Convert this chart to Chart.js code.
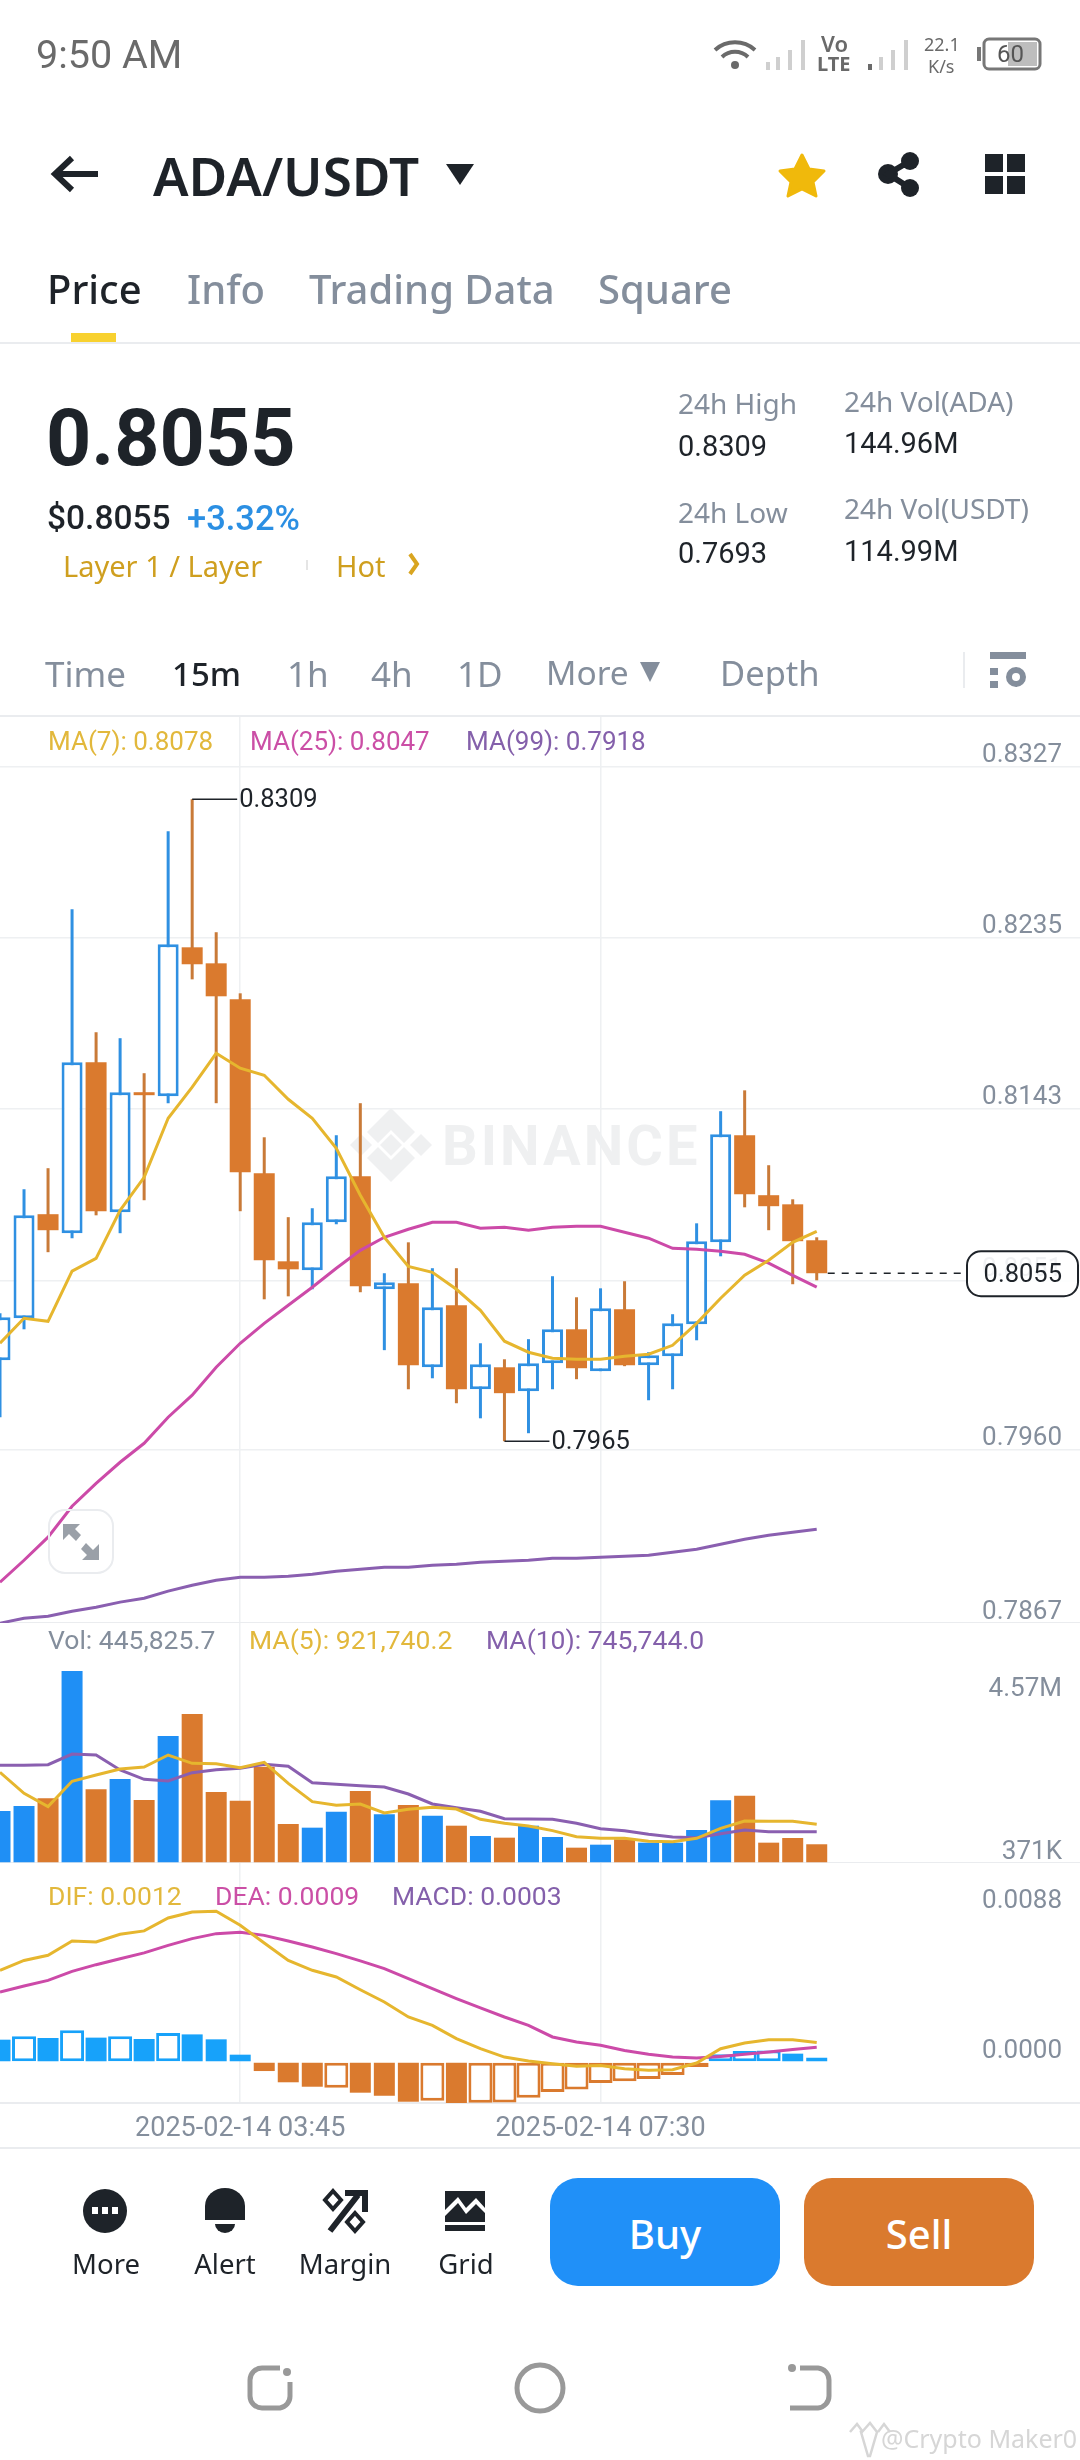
<!DOCTYPE html>
<html>
<head>
<meta charset="utf-8">
<title>ADA/USDT</title>
<script src="https://cdn.jsdelivr.net/npm/chart.js@4/dist/chart.umd.min.js"></script>
<style>
  html, body { margin: 0; padding: 0; background: #fff; }
  #page { position: relative; width: 1080px; height: 2460px; overflow: hidden; background: #fff; font-family: "Noto Sans", sans-serif; }
  .t { position: absolute; white-space: nowrap; line-height: 1; transform: translateY(-50%); }
  .c { transform: translate(-50%, -50%); }
  .num { font-family: Roboto, sans-serif; }
  .g { color: #848e9c; }
  .d { color: #1e2329; }
  .rule { position: absolute; left: 0; width: 1080px; height: 2px; background: #eaecef; }
  canvas { position: absolute; left: 0; }
  svg { position: absolute; left: 0; top: 0; }
  .btn { position: absolute; top: 2178px; height: 108px; width: 230px; border-radius: 28px; color: #fff; font-size: 40px; font-weight: 500; text-align: center; line-height: 112px; }
</style>
</head>
<body>
<div id="page">
  <!-- watermark sits under the charts -->
  <svg width="1080" height="2460">
    <g fill="#eff0f1">
      <path d="M391 1108 l24 24 -11 11 -13 -13 -13 13 -11 -11 z"/>
      <path d="M391 1182 l24 -24 -11 -11 -13 13 -13 -13 -11 11 z"/>
      <path d="M391 1134 l11 11 -11 11 -11 -11 z"/>
      <path d="M361 1134 l11 11 -11 11 -11 -11 z"/>
      <path d="M421 1134 l11 11 -11 11 -11 -11 z"/>
    </g>
    <text x="442" y="1165" font-family="Roboto" font-weight="700" font-size="56" letter-spacing="3" fill="#eff0f1">BINANCE</text>
  </svg>

  <canvas id="priceChart" width="1080" height="907" style="top:716px"></canvas>
  <canvas id="volChart" width="1080" height="240" style="top:1623px"></canvas>
  <canvas id="macdChart" width="1080" height="285" style="top:1863px"></canvas>

  <div class="rule" style="top:342px"></div>
  <div class="rule" style="top:715px"></div>
  <div class="rule" style="top:2147px"></div>

  <svg width="1080" height="2460">
    <!-- status bar -->
    <g fill="none" stroke="#6a6a6a" stroke-width="4">
      <path d="M715 50 a30 30 0 0 1 40 0"/><path d="M722 57 a19 19 0 0 1 26 0"/>
    </g>
    <circle cx="735" cy="65" r="4" fill="#6a6a6a"/>
    <g fill="#cfcfcf">
      <rect x="766" y="62" width="4" height="8"/><rect x="776" y="57" width="4" height="13"/><rect x="788" y="50" width="4" height="20"/><rect x="801" y="40" width="4" height="30"/>
      <rect x="879" y="57" width="4" height="13"/><rect x="891" y="50" width="4" height="20"/><rect x="904" y="40" width="4" height="30"/>
    </g>
    <rect x="868" y="64" width="4" height="6" fill="#6a6a6a"/>
    <rect x="984" y="39" width="56" height="30" rx="5" fill="none" stroke="#777" stroke-width="3"/>
    <rect x="1008" y="42" width="29" height="24" fill="#bdbdbd"/>
    <rect x="977" y="47" width="4" height="14" fill="#777"/>
    <!-- header icons -->
    <path d="M98 174 H58 M72 158 L55 174 L72 190" fill="none" stroke="#1e2329" stroke-width="6"/>
    <path d="M446 164 H474 L460 185 Z" fill="#1e2329"/>
    <path d="M802 155 L809 169 L824 171 L813 182 L816 196 L802 189 L788 196 L791 182 L780 171 L795 169 Z" fill="#f0b90b" stroke="#f0b90b" stroke-width="3" stroke-linejoin="round"/>
    <g fill="#1e2329"><circle cx="888" cy="174" r="10"/><circle cx="910" cy="161" r="9"/><circle cx="910" cy="188" r="9"/></g>
    <path d="M910 161 L888 174 L910 188" fill="none" stroke="#1e2329" stroke-width="6"/>
    <g fill="#1e2329">
      <rect x="985" y="154" width="18" height="18"/><rect x="1007" y="154" width="18" height="18"/>
      <rect x="985" y="176" width="18" height="18"/><rect x="1007" y="176" width="18" height="18"/>
    </g>
    <rect x="71" y="333" width="45" height="9" fill="#f8d12f"/>
    <!-- tag row -->
    <rect x="306" y="560" width="2" height="10" fill="#e5e5e5"/>
    <path d="M410 554 L417 564 L410 574" fill="none" stroke="#d9a520" stroke-width="4"/>
    <!-- interval row -->
    <path d="M640 662 H660 L650 682 Z" fill="#848e9c"/>
    <rect x="963" y="652" width="2" height="36" fill="#eaecef"/>
    <g fill="#848e9c">
      <rect x="990" y="652" width="36" height="7"/><rect x="990" y="668" width="8" height="7"/><rect x="990" y="681" width="8" height="7"/>
    </g>
    <circle cx="1016" cy="677" r="7" fill="none" stroke="#848e9c" stroke-width="6"/>
    <!-- expand button -->
    <rect x="49" y="1510" width="64" height="63" rx="16" fill="none" stroke="#eaecef" stroke-width="2"/>
    <g fill="#9aa0a8">
      <path d="M63 1524 H80 L75 1529 L81 1535 L76 1541 L69 1534 L63 1540 Z"/>
      <path d="M99 1560 H82 L87 1555 L81 1549 L86 1543 L93 1550 L99 1544 Z"/>
    </g>
    <!-- bottom bar icons -->
    <circle cx="105" cy="2211" r="22" fill="#1e2329"/>
    <g fill="#fff"><rect x="92" y="2207" width="6" height="7"/><rect x="102" y="2207" width="6" height="7"/><rect x="112" y="2207" width="6" height="7"/></g>
    <path d="M205 2220 V2206 a20 18 0 0 1 40 0 V2220 Z" fill="#1e2329"/>
    <path d="M215 2224 H235 a10 9 0 0 1 -20 0 Z" fill="#1e2329"/>
    <path d="M330 2231 L358 2195 M345 2193 H365 V2212" fill="none" stroke="#1e2329" stroke-width="6"/>
    <path d="M333 2191 l8 9 -8 9 -8 -9 z M355 2213 l8 9 -8 9 -8 -9 z" fill="none" stroke="#1e2329" stroke-width="4"/>
    <path d="M445 2191 H485 V2222 H445 Z" fill="#1e2329"/>
    <path d="M445 2210 L458 2197 L466 2208 L476 2198 L485 2208 V2213 L476 2204 L466 2214 L458 2203 L445 2216 Z" fill="#fff"/>
    <rect x="445" y="2225" width="40" height="6" fill="#1e2329"/>
    <!-- nav bar -->
    <g fill="none" stroke="#999" stroke-width="5">
      <path d="M280 2368 H262 a12 12 0 0 0 -12 12 V2396 a12 12 0 0 0 12 12 H280 a12 12 0 0 0 10 -12 V2382"/>
      <circle cx="540" cy="2388" r="23"/>
      <path d="M800 2368 H818 a12 12 0 0 1 11 12 V2396 a12 12 0 0 1 -11 12 H790"/>
    </g>
    <circle cx="287" cy="2372" r="4" fill="#999"/>
    <circle cx="792" cy="2368" r="4" fill="#999"/>
    <path d="M862 2432 l8 -9 7 9 -7 24 h-2 l-7 -24 z M850 2432 l7 -8 6 8 M878 2432 l6 -8 6 8" fill="none" stroke="#d6d6d6" stroke-width="2.5"/>
  </svg>

  <!-- status texts -->
  <div class="t num" style="left:36px;top:55px;font-size:39.5px;color:#6a6a6a">9:50 AM</div>
  <div class="t" style="left:821px;top:43px;font-size:22px;font-weight:600;color:#6a6a6a">Vo</div>
  <div class="t" style="left:817px;top:64px;font-size:20px;font-weight:700;color:#6a6a6a">LTE</div>
  <div class="t" style="left:924px;top:44px;font-size:18px;color:#6a6a6a">22.1</div>
  <div class="t" style="left:928px;top:66px;font-size:18px;color:#6a6a6a">K/s</div>
  <div class="t num" style="left:997px;top:54px;font-size:24px;color:#555">60</div>

  <!-- title and tabs -->
  <div class="t d" style="left:153px;top:175px;font-size:53px;font-weight:600">ADA/USDT</div>
  <div class="t d" style="left:47px;top:289px;font-size:40px;font-weight:500">Price</div>
  <div class="t g" style="left:187px;top:289px;font-size:40px;font-weight:500">Info</div>
  <div class="t g" style="left:309px;top:289px;font-size:40px;font-weight:500">Trading Data</div>
  <div class="t g" style="left:598px;top:289px;font-size:40px;font-weight:500">Square</div>

  <!-- price block -->
  <div class="t num d" style="left:46px;top:438px;font-size:79px;font-weight:700">0.8055</div>
  <div class="t num d" style="left:47px;top:518px;font-size:33.5px;font-weight:500">$0.8055</div>
  <div class="t num" style="left:187px;top:518px;font-size:34.5px;font-weight:500;color:#2b8fe3">+3.32%</div>
  <div class="t" style="left:63px;top:565px;font-size:29px;color:#cf9f1f">Layer 1 / Layer</div>
  <div class="t" style="left:336px;top:565px;font-size:29px;color:#cf9f1f">Hot</div>

  <div class="t g" style="left:678px;top:403px;font-size:28px">24h High</div>
  <div class="t num d" style="left:678px;top:446px;font-size:29px">0.8309</div>
  <div class="t g" style="left:678px;top:512px;font-size:28px">24h Low</div>
  <div class="t num d" style="left:678px;top:553px;font-size:29px">0.7693</div>
  <div class="t g" style="left:844px;top:401px;font-size:28px">24h Vol(ADA)</div>
  <div class="t num d" style="left:844px;top:443px;font-size:29px">144.96M</div>
  <div class="t g" style="left:844px;top:508px;font-size:28px">24h Vol(USDT)</div>
  <div class="t num d" style="left:844px;top:551px;font-size:29px">114.99M</div>

  <!-- interval row -->
  <div class="t g" style="left:45px;top:673px;font-size:35px">Time</div>
  <div class="t d" style="left:172px;top:673px;font-size:33px;font-weight:500">15m</div>
  <div class="t g" style="left:287px;top:673px;font-size:35px">1h</div>
  <div class="t g" style="left:371px;top:673px;font-size:35px">4h</div>
  <div class="t g" style="left:457px;top:673px;font-size:35px">1D</div>
  <div class="t g" style="left:546px;top:673px;font-size:33.5px">More</div>
  <div class="t g" style="left:720px;top:673px;font-size:34.5px">Depth</div>

  <!-- indicator legends -->
  <div class="t num" style="left:48px;top:741px;font-size:26px;color:#e2b83c">MA(7): 0.8078</div>
  <div class="t num" style="left:250px;top:741px;font-size:26px;color:#cb4fa6">MA(25): 0.8047</div>
  <div class="t num" style="left:466px;top:741px;font-size:26px;color:#8460ab">MA(99): 0.7918</div>
  <div class="t num g" style="left:48px;top:1640px;font-size:26.5px">Vol: 445,825.7</div>
  <div class="t num" style="left:249px;top:1640px;font-size:26.5px;color:#e2b83c">MA(5): 921,740.2</div>
  <div class="t num" style="left:486px;top:1640px;font-size:26.5px;color:#8460ab">MA(10): 745,744.0</div>
  <div class="t num" style="left:48px;top:1896px;font-size:26.5px;color:#e2b83c">DIF: 0.0012</div>
  <div class="t num" style="left:215px;top:1896px;font-size:26.5px;color:#cb4fa6">DEA: 0.0009</div>
  <div class="t num" style="left:392px;top:1896px;font-size:26.5px;color:#8460ab">MACD: 0.0003</div>

  <!-- bottom bar -->
  <div class="t c d" style="left:106px;top:2264px;font-size:27.5px">More</div>
  <div class="t c d" style="left:225px;top:2264px;font-size:27.5px">Alert</div>
  <div class="t c d" style="left:345px;top:2264px;font-size:27.5px">Margin</div>
  <div class="t c d" style="left:466px;top:2264px;font-size:27.5px">Grid</div>
  <div class="btn" style="left:550px;background:#2090f8">Buy</div>
  <div class="btn" style="left:804px;background:#da7a2e">Sell</div>
  <div class="t" style="left:881px;top:2438px;font-size:25px;color:#d6d6d6">@Crypto Maker0</div>
</div>

<script>
const timeLabels = [
  "2025-02-14 01:15", "2025-02-14 01:30", "2025-02-14 01:45", "2025-02-14 02:00", "2025-02-14 02:15",
  "2025-02-14 02:30", "2025-02-14 02:45", "2025-02-14 03:00", "2025-02-14 03:15", "2025-02-14 03:30",
  "2025-02-14 03:45", "2025-02-14 04:00", "2025-02-14 04:15", "2025-02-14 04:30", "2025-02-14 04:45",
  "2025-02-14 05:00", "2025-02-14 05:15", "2025-02-14 05:30", "2025-02-14 05:45", "2025-02-14 06:00",
  "2025-02-14 06:15", "2025-02-14 06:30", "2025-02-14 06:45", "2025-02-14 07:00", "2025-02-14 07:15",
  "2025-02-14 07:30", "2025-02-14 07:45", "2025-02-14 08:00", "2025-02-14 08:15", "2025-02-14 08:30",
  "2025-02-14 08:45", "2025-02-14 09:00", "2025-02-14 09:15", "2025-02-14 09:30", "2025-02-14 09:45"
];

// candles
const opens = [0.80081, 0.80306, 0.80865, 0.80763, 0.81681, 0.80875, 0.81520, 0.81498, 0.82298, 0.82212, 0.82019, 0.81085,
  0.80612, 0.80564, 0.80822, 0.81069, 0.80462, 0.80494, 0.80043, 0.80376, 0.79925, 0.80043, 0.79914, 0.80065, 0.80247,
  0.80022, 0.80355, 0.80054, 0.80102, 0.80274, 0.80714, 0.81289, 0.80967, 0.80918, 0.80725];
const closes = [0.80312, 0.80859, 0.80779, 0.81681, 0.80881, 0.81520, 0.81504, 0.82314, 0.82207, 0.82035, 0.81090, 0.80618,
  0.80569, 0.80822, 0.81069, 0.80478, 0.80500, 0.80054, 0.80365, 0.79925, 0.80059, 0.79904, 0.80065, 0.80247, 0.80038,
  0.80360, 0.80054, 0.80108, 0.80279, 0.80720, 0.81294, 0.80972, 0.80908, 0.80720, 0.80548];
const highs = [0.80333, 0.80999, 0.81112, 0.82502, 0.81842, 0.81810, 0.81622, 0.82921, 0.83093, 0.82379, 0.82051, 0.81278,
  0.80849, 0.80897, 0.81289, 0.81461, 0.80548, 0.80714, 0.80575, 0.80575, 0.80172, 0.80086, 0.80194, 0.80532, 0.80419,
  0.80467, 0.80505, 0.80124, 0.80328, 0.80816, 0.81418, 0.81530, 0.81128, 0.80945, 0.80741];
const lows = [0.79775, 0.80247, 0.80661, 0.80736, 0.80859, 0.80763, 0.80940, 0.81461, 0.82126, 0.81461, 0.80881, 0.80408,
  0.80424, 0.80462, 0.80811, 0.80446, 0.80135, 0.79925, 0.79984, 0.79850, 0.79769, 0.79646, 0.79689, 0.79925, 0.79979,
  0.80022, 0.80049, 0.79866, 0.79925, 0.80188, 0.80639, 0.80902, 0.80779, 0.80489, 0.80510];

const ma7 = [0.80172, 0.80306, 0.80290, 0.80559, 0.80628, 0.80886, 0.81063, 0.81380, 0.81547, 0.81729, 0.81649, 0.81611,
  0.81482, 0.81380, 0.81219, 0.80967, 0.80741, 0.80585, 0.80553, 0.80462, 0.80349, 0.80183, 0.80124, 0.80092, 0.80086,
  0.80086, 0.80102, 0.80113, 0.80161, 0.80279, 0.80414, 0.80537, 0.80618, 0.80714, 0.80773];
const ma25 = [0.78889, 0.79007, 0.79131, 0.79297, 0.79420, 0.79533, 0.79635, 0.79775, 0.79893, 0.80043, 0.80172, 0.80279,
  0.80376, 0.80473, 0.80575, 0.80671, 0.80741, 0.80784, 0.80822, 0.80822, 0.80790, 0.80795, 0.80779, 0.80795, 0.80800,
  0.80800, 0.80768, 0.80736, 0.80682, 0.80677, 0.80666, 0.80650, 0.80602, 0.80537, 0.80473];
const ma99 = [0.78669, 0.78696, 0.78706, 0.78733, 0.78755, 0.78782, 0.78803, 0.78841, 0.78873, 0.78900, 0.78916, 0.78916,
  0.78921, 0.78932, 0.78948, 0.78959, 0.78969, 0.78969, 0.78980, 0.78986, 0.78996, 0.79002, 0.79007, 0.79018, 0.79018,
  0.79023, 0.79029, 0.79034, 0.79050, 0.79066, 0.79093, 0.79120, 0.79141, 0.79157, 0.79173];

const volumes = [1238000, 1357000, 1539000, 4570000, 1753000, 2000000, 1499000, 3022000, 3546000, 1690000, 1484000, 2293000,
  928000, 841000, 1221000, 1714000, 1158000, 1380000, 1127000, 888000, 643000, 603000, 888000, 619000, 365000,
  436000, 563000, 484000, 484000, 785000, 1491000, 1603000, 484000, 595000, 445826];
const volMa5 = [2158000, 1658000, 1341000, 1944000, 2094000, 2237000, 2285000, 2570000, 2372000, 2364000, 2269000, 2396000,
  1896000, 1460000, 1372000, 1404000, 1190000, 1277000, 1325000, 1285000, 1039000, 944000, 881000, 770000, 627000,
  587000, 587000, 516000, 508000, 587000, 825000, 1000000, 992000, 992000, 921740];
const volMa10 = [2324000, 2324000, 2340000, 2594000, 2570000, 2213000, 1991000, 1952000, 2150000, 2221000, 2253000, 2348000,
  2301000, 1912000, 1872000, 1841000, 1809000, 1642000, 1404000, 1317000, 1230000, 1055000, 1047000, 1039000, 944000,
  817000, 770000, 682000, 619000, 603000, 698000, 785000, 746000, 746000, 745744];

const dif = [0.00538, 0.00596, 0.00626, 0.00710, 0.00704, 0.00749, 0.00769, 0.00845, 0.00880, 0.00884, 0.00802, 0.00698,
  0.00596, 0.00538, 0.00499, 0.00424, 0.00352, 0.00264, 0.00215, 0.00137, 0.00078, 0.00029, 0.00006, -0.00010, -0.00025,
  -0.00020, -0.00039, -0.00049, -0.00045, -0.00006, 0.00078, 0.00111, 0.00131, 0.00131, 0.00115];
const dea = [0.00411, 0.00446, 0.00479, 0.00532, 0.00571, 0.00606, 0.00640, 0.00684, 0.00724, 0.00753, 0.00761, 0.00743,
  0.00710, 0.00675, 0.00636, 0.00593, 0.00548, 0.00489, 0.00430, 0.00372, 0.00317, 0.00264, 0.00215, 0.00147, 0.00117,
  0.00098, 0.00068, 0.00045, 0.00029, 0.00023, 0.00033, 0.00045, 0.00059, 0.00074, 0.00086];
const macdHist = [0.00131, 0.00151, 0.00141, 0.00186, 0.00143, 0.00151, 0.00135, 0.00170, 0.00162, 0.00133, 0.00043, -0.00053,
  -0.00119, -0.00145, -0.00151, -0.00180, -0.00198, -0.00233, -0.00227, -0.00241, -0.00239, -0.00237, -0.00209, -0.00176, -0.00162,
  -0.00123, -0.00113, -0.00100, -0.00076, -0.00029, 0.00045, 0.00065, 0.00068, 0.00049, 0.00025];
// a macd bar is hollow when it grew against the one before it
const macdHollow = [0, 1, 0, 1, 0, 1, 0, 1, 0, 0, 0, 0, 0, 0, 1, 0, 0, 0, 1, 0, 1, 1, 1, 1, 1, 1, 1, 1, 1, 1, 1, 1, 1, 0, 0];

const priceTicks = [0.8327, 0.8235, 0.8143, 0.8051, 0.7960, 0.7867];
const volTickValues = [3875000, 0];
const volTickLabels = ["4.57M", "371K"];
const macdTicks = [0.0088, 0];
const timeTicks = [10, 25];

const BLUE = "#2f90e2";
const ORANGE = "#da7a2e";
const WICK_ORANGE = "#c97a38";
const VOL_BLUE = "#1f8ff5";
const MACD_BLUE = "#17a2fa";
const YELLOW = "#e6b62e";
const PINK = "#cc4aa8";
const PURPLE = "#8a5fb0";
const GRID = "#eef0f2";
const SLOTS = 44.96;

function points(values) {
  return values.map((v, i) => ({ x: i, y: v }));
}

function lineSet(values, color) {
  return { type: "line", data: points(values), borderColor: color, borderWidth: 3, pointRadius: 0, tension: 0, order: 0 };
}

function xAxis(showLabels) {
  return {
    type: "linear", min: 0, max: SLOTS, offset: false,
    afterBuildTicks: s => { s.ticks = timeTicks.map(v => ({ value: v })); },
    afterFit: s => {
      s.paddingLeft = 0; s.paddingRight = 0;
      s.height = showLabels ? 45 : 0;
    },
    grid: { offset: false, color: GRID, lineWidth: 1.5, drawTicks: false },
    border: { display: true, color: "#eaecef", width: 2 },
    ticks: {
      display: showLabels, autoSkip: false, maxRotation: 0, padding: 10, color: "#848e9c",
      font: { family: "Roboto", size: 27 },
      callback: v => timeLabels[v]
    }
  };
}

function yAxis(min, max, tickValues, format, gridColor) {
  return {
    position: "right", min: min, max: max,
    afterBuildTicks: s => { s.ticks = tickValues.map(v => ({ value: v })); },
    afterFit: s => { s.paddingTop = 0; s.paddingBottom = 0; s.width = 0; },
    grid: { color: gridColor, lineWidth: 1.5, drawTicks: false },
    border: { display: false },
    ticks: {
      mirror: true, padding: -18, labelOffset: -11, autoSkip: false, color: "#848e9c",
      font: { family: "Roboto", size: 26 },
      callback: format
    }
  };
}

const baseOptions = {
  responsive: false,
  animation: false,
  layout: { padding: 0 },
  plugins: { legend: { display: false }, tooltip: { enabled: false } },
  datasets: { bar: { grouped: false } }
};

// high / low tags and the last price pill
const priceMarks = {
  id: "priceMarks",
  afterDatasetsDraw(chart) {
    const { ctx, scales } = chart;
    const hi = Math.max(...highs);
    const lo = Math.min(...lows);
    const marks = [[highs.indexOf(hi), hi], [lows.indexOf(lo), lo]];
    ctx.save();
    ctx.font = "25.5px Roboto";
    ctx.textBaseline = "middle";
    marks.forEach(m => {
      const x = scales.x.getPixelForValue(m[0]);
      const y = scales.y.getPixelForValue(m[1]);
      ctx.strokeStyle = "#1e2329";
      ctx.lineWidth = 1.5;
      ctx.beginPath();
      ctx.moveTo(x, y);
      ctx.lineTo(x + 45, y);
      ctx.stroke();
      ctx.fillStyle = "#1e2329";
      ctx.fillText(m[1].toFixed(4), x + 47, y + 1);
    });

    const last = closes[closes.length - 1];
    const lastX = scales.x.getPixelForValue(closes.length - 1);
    const lastY = scales.y.getPixelForValue(last);
    ctx.setLineDash([7, 7]);
    ctx.lineWidth = 1.5;
    ctx.beginPath();
    ctx.moveTo(lastX + 11, lastY);
    ctx.lineTo(967, lastY);
    ctx.stroke();
    ctx.setLineDash([]);
    ctx.beginPath();
    ctx.roundRect(967, lastY - 22, 111, 45, 14);
    ctx.fillStyle = "rgba(255,255,255,0.88)";
    ctx.fill();
    ctx.lineWidth = 2;
    ctx.stroke();
    ctx.fillStyle = "#1e2329";
    ctx.textAlign = "right";
    ctx.fillText(last.toFixed(4), 1062, lastY + 2);
    ctx.restore();
  }
};

function isUp(i) {
  return closes[i] >= opens[i];
}

new Chart(document.getElementById("priceChart"), {
  type: "bar",
  data: {
    datasets: [
      {
        data: highs.map((h, i) => ({ x: i, y: [lows[i], h] })),
        barThickness: 3, inflateAmount: 0, order: 2,
        backgroundColor: ctx => isUp(ctx.dataIndex) ? BLUE : WICK_ORANGE
      },
      {
        data: opens.map((o, i) => ({ x: i, y: [o, closes[i]] })),
        barThickness: 21, inflateAmount: 0, order: 1, borderSkipped: false,
        backgroundColor: ctx => isUp(ctx.dataIndex) ? "#ffffff" : ORANGE,
        borderColor: ctx => isUp(ctx.dataIndex) ? BLUE : ORANGE,
        borderWidth: ctx => isUp(ctx.dataIndex) ? 3 : 0
      },
      lineSet(ma7, YELLOW),
      lineSet(ma25, PINK),
      lineSet(ma99, PURPLE)
    ]
  },
  options: {
    ...baseOptions,
    scales: {
      x: xAxis(false),
      y: yAxis(0.7867, 0.8354, priceTicks, v => v.toFixed(4), GRID)
    }
  },
  plugins: [priceMarks]
});

new Chart(document.getElementById("volChart"), {
  type: "bar",
  data: {
    datasets: [
      {
        data: points(volumes),
        barThickness: 21, inflateAmount: 0, order: 1,
        backgroundColor: ctx => isUp(ctx.dataIndex) ? VOL_BLUE : ORANGE
      },
      lineSet(volMa5, YELLOW),
      lineSet(volMa10, PURPLE)
    ]
  },
  options: {
    ...baseOptions,
    scales: {
      x: xAxis(false),
      y: yAxis(0, 5712000, volTickValues, v => volTickLabels[volTickValues.indexOf(v)], "transparent")
    }
  }
});

function histColor(i) {
  return macdHist[i] >= 0 ? MACD_BLUE : ORANGE;
}

new Chart(document.getElementById("macdChart"), {
  type: "bar",
  data: {
    datasets: [
      {
        data: points(macdHist.map((v, i) => macdHollow[i] ? null : v)),
        barThickness: 21, inflateAmount: 0, order: 1,
        backgroundColor: ctx => histColor(ctx.dataIndex)
      },
      {
        data: points(macdHist.map((v, i) => macdHollow[i] ? v : null)),
        barThickness: 24, inflateAmount: 0, order: 1, borderSkipped: false, borderWidth: 3,
        backgroundColor: "#ffffff",
        borderColor: ctx => histColor(ctx.dataIndex)
      },
      lineSet(dif, YELLOW),
      lineSet(dea, PINK)
    ]
  },
  options: {
    ...baseOptions,
    scales: {
      x: xAxis(true),
      y: yAxis(-0.002405, 0.011675, macdTicks, v => v.toFixed(4), "transparent")
    }
  }
});
</script>
</body>
</html>
